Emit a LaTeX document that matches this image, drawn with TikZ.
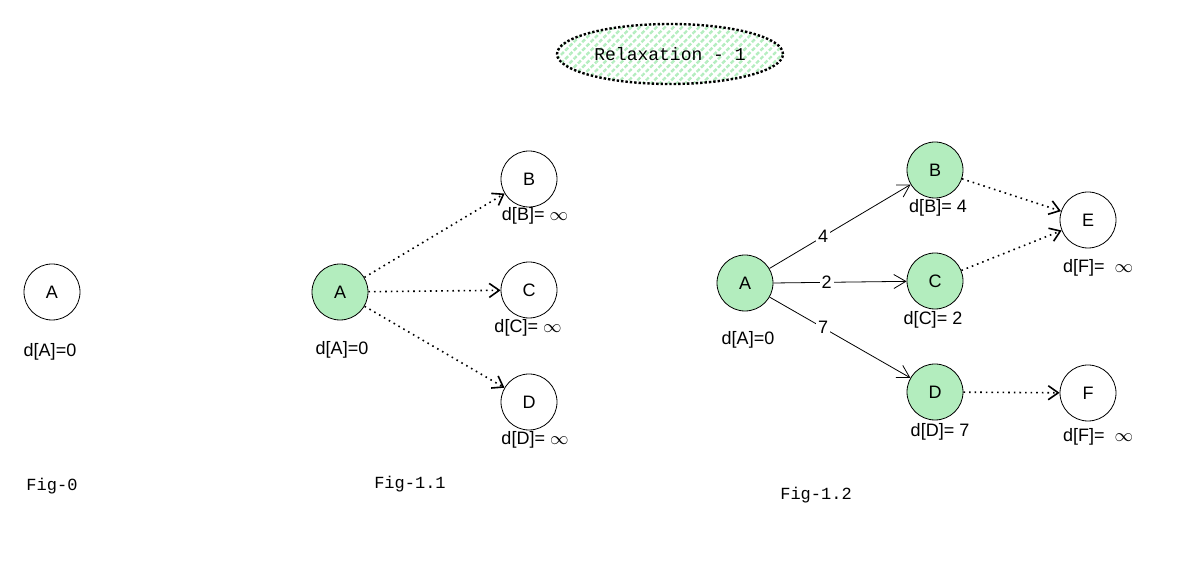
\documentclass[tikz,border=0pt]{standalone}
\usepackage{fontspec}
\setmainfont{Liberation Sans}
\setmonofont{Liberation Mono}
\usetikzlibrary{arrows.meta,patterns.meta,shapes.geometric}
\definecolor{ngreen}{HTML}{B3EDBE}
\begin{document}
\begin{tikzpicture}[x=0.5pt,y=-0.5pt,
  nd/.style={circle,draw,minimum size=28pt,inner sep=0pt,font=\fontsize{9}{10}\selectfont},
  gn/.style={nd,fill=ngreen},
  lb/.style={font=\fontsize{9}{10}\selectfont},
  fg/.style={font=\ttfamily\fontsize{8.5}{10}\selectfont},
  dt/.style={dotted,thick,-{Straight Barb[length=5pt,width=7pt]}},
  sl/.style={-{Straight Barb[length=6pt,width=7pt]}},
  el/.style={lb,fill=white,inner sep=1pt}]
\useasboundingbox (0,0) rectangle (1200,565);
% title
\node[ellipse,draw,densely dotted,very thick,pattern={Lines[angle=45,distance=3pt]},pattern color=ngreen,minimum width=113pt,minimum height=30pt] (t) at (670,54) {};
\node[fg,font=\ttfamily\fontsize{9}{10}\selectfont] (tt) at (670,54) {Relaxation - 1};
% Fig 0
\node[nd] (a0) at (52,292) {A};
\node[lb] (la0) at (50,352) {d[A]=0};
\node[fg] (f0) at (52,486) {Fig-0};
% Fig 1.1
\node[gn] (a1) at (340,292) {A};
\node[nd] (b1) at (529,179) {B};
\node[nd] (c1) at (529,290) {C};
\node[nd] (d1) at (529,402) {D};
\node[lb] (la1) at (342,350) {d[A]=0};
\node[lb] (lb1) at (535,216) {d[B]= $\infty$};
\node[lb] (lc1) at (528,328) {d[C]= $\infty$};
\node[lb] (ld1) at (535,440) {d[D]= $\infty$};
\node[fg] (f1) at (410,484) {Fig-1.1};
\draw[dt] (a1) -- (b1);
\draw[dt] (a1) -- (c1);
\draw[dt] (a1) -- (d1);
% Fig 1.2
\node[gn] (a2) at (745,283) {A};
\node[gn] (b2) at (935,170) {B};
\node[gn] (c2) at (935,281) {C};
\node[gn] (d2) at (935,392) {D};
\node[nd] (e2) at (1088,220) {E};
\node[nd] (f2) at (1088,393) {F};
\node[lb] (la2) at (748,340) {d[A]=0};
\node[lb] (lb2) at (938,208) {d[B]= 4};
\node[lb] (lc2) at (933,320) {d[C]= 2};
\node[lb] (ld2) at (940,432) {d[D]= 7};
\node[lb] (le2) at (1098,268) {d[F]=\ \ $\infty$};
\node[lb] (lf2) at (1098,437) {d[F]=\ \ $\infty$};
\node[fg] (f12) at (816,495) {Fig-1.2};
\draw[sl] (a2) -- node[el,pos=0.38] {4} (b2);
\draw[sl] (a2.east) -- node[el,pos=0.4] {2} (c2);
\draw[sl] (a2) -- node[el,pos=0.38] {7} (d2);
\draw[dt] (b2) -- (e2);
\draw[dt] (c2) -- (e2);
\draw[dt] (d2) -- (f2);
\end{tikzpicture}
\end{document}
